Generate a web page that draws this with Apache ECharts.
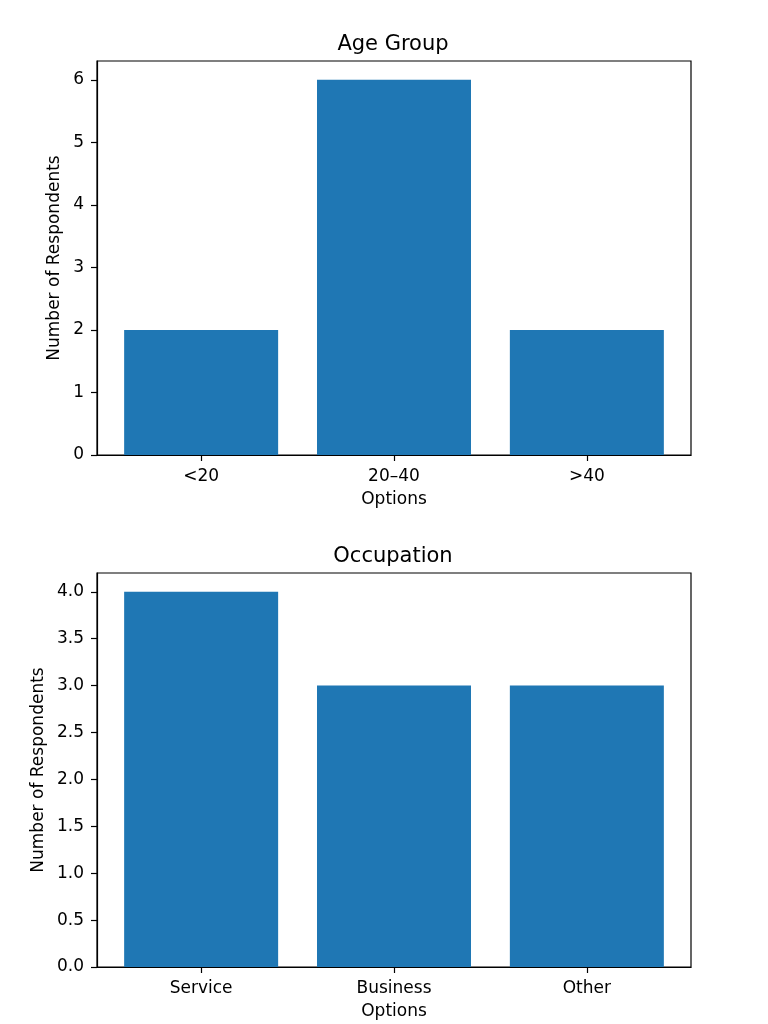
<!DOCTYPE html>
<html>
<head>
<meta charset="utf-8">
<script src="https://cdn.jsdelivr.net/npm/echarts@6/dist/echarts.min.js"></script>
<style>
  html, body { margin: 0; padding: 0; background: #fff; }
  #chart { width: 768px; height: 1024px; }
</style>
</head>
<body>
<div id="chart"></div>
<script>
var ageCats = ['<20', '20\u201340', '>40']
var ageCounts = [2, 6, 2]
var ageTicks = [0, 1, 2, 3, 4, 5, 6]

var occCats = ['Service', 'Business', 'Other']
var occCounts = [4, 3, 3]
var occTicks = [0, 0.5, 1, 1.5, 2, 2.5, 3, 3.5, 4]

var font = 'DejaVu Sans'
var blue = '#1f77b4'
var fs = 17

function toPairs (vals) {
  return vals.map(function (v, i) { return [i, v] })
}

function xAxisFor (idx, cats) {
  var pos = cats.map(function (c, i) { return i })
  return {
    type: 'value',
    gridIndex: idx,
    min: -0.54,
    max: cats.length - 1 + 0.54,
    name: 'Options',
    nameLocation: 'middle',
    nameGap: 36,
    nameTextStyle: { fontFamily: font, fontSize: fs, color: '#000' },
    axisLine: { show: true, onZero: false, lineStyle: { color: '#000', width: 1.2 } },
    axisTick: { show: true, length: 6, customValues: pos, lineStyle: { color: '#000', width: 1.2 } },
    axisLabel: {
      customValues: pos,
      margin: 13,
      fontFamily: font,
      fontSize: fs,
      color: '#000',
      formatter: function (v) { return cats[Math.round(v)] }
    },
    splitLine: { show: false }
  }
}

function yAxisFor (idx, ticks, top, gap, dec) {
  return {
    type: 'value',
    gridIndex: idx,
    min: 0,
    max: top,
    name: 'Number of Respondents',
    nameLocation: 'middle',
    nameGap: gap,
    nameRotate: 90,
    nameMoveOverlap: false,
    nameTextStyle: { fontFamily: font, fontSize: fs, color: '#000' },
    axisLine: { show: true, onZero: false, lineStyle: { color: '#000', width: 1.2 } },
    axisTick: { show: true, length: 6, customValues: ticks, lineStyle: { color: '#000', width: 1.2 } },
    axisLabel: {
      customValues: ticks,
      margin: 13,
      fontFamily: font,
      fontSize: fs,
      color: '#000',
      formatter: function (v) { return v.toFixed(dec) }
    },
    splitLine: { show: false }
  }
}

var chart = echarts.init(document.getElementById('chart'), null, { renderer: 'canvas' })

chart.setOption({
  animation: false,
  backgroundColor: '#fff',
  title: [
    { text: 'Age Group', left: 388, top: 29, textAlign: 'center',
      textStyle: { fontFamily: font, fontSize: 21, fontWeight: 'normal', color: '#000' } },
    { text: 'Occupation', left: 388, top: 541, textAlign: 'center',
      textStyle: { fontFamily: font, fontSize: 21, fontWeight: 'normal', color: '#000' } }
  ],
  grid: [
    { left: 97, right: 77, top: 61, height: 394, show: true, borderColor: '#000', borderWidth: 1.2 },
    { left: 97, right: 77, top: 573, height: 394, show: true, borderColor: '#000', borderWidth: 1.2 }
  ],
  xAxis: [xAxisFor(0, ageCats), xAxisFor(1, occCats)],
  yAxis: [yAxisFor(0, ageTicks, 6.3, 34, 0), yAxisFor(1, occTicks, 4.2, 50, 1)],
  series: [
    { type: 'bar', xAxisIndex: 0, yAxisIndex: 0, data: toPairs(ageCounts), barWidth: 154,
      itemStyle: { color: blue } },
    { type: 'bar', xAxisIndex: 1, yAxisIndex: 1, data: toPairs(occCounts), barWidth: 154,
      itemStyle: { color: blue } }
  ]
})
</script>
</body>
</html>
